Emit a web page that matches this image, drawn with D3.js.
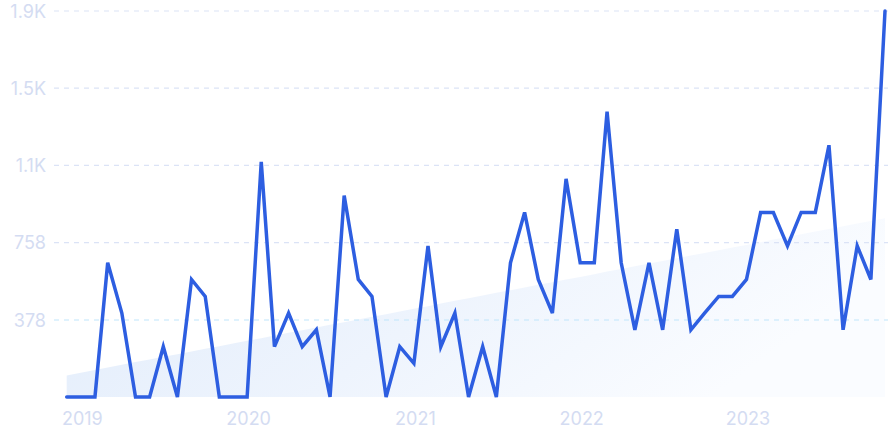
<!DOCTYPE html>
<html>
<head>
<meta charset="utf-8">
<script src="https://cdn.jsdelivr.net/npm/d3@7"></script>
<style>
  html, body { margin: 0; padding: 0; background: #ffffff; }
  svg { display: block; }
  text { font-family: Inter, "Noto Sans", sans-serif; }
</style>
</head>
<body>
<svg id="chart" width="888" height="443"></svg>
<script>
// ---- data ----
const months = [
  "2018-12","2019-01","2019-02","2019-03","2019-04","2019-05","2019-06","2019-07","2019-08","2019-09","2019-10","2019-11",
  "2019-12","2020-01","2020-02","2020-03","2020-04","2020-05","2020-06","2020-07","2020-08","2020-09","2020-10","2020-11",
  "2020-12","2021-01","2021-02","2021-03","2021-04","2021-05","2021-06","2021-07","2021-08","2021-09","2021-10","2021-11",
  "2021-12","2022-01","2022-02","2022-03","2022-04","2022-05","2022-06","2022-07","2022-08","2022-09","2022-10","2022-11",
  "2022-12","2023-01","2023-02","2023-03","2023-04","2023-05","2023-06","2023-07","2023-08","2023-09","2023-10","2023-11"
];
const values = [
  0,0,0,659,412,0,0,247,0,577,494,0,
  0,0,1154,247,412,247,330,0,989,577,494,0,
  247,165,742,247,412,0,247,0,659,906,577,412,
  1071,659,659,1401,659,330,659,330,824,330,412,494,
  494,577,906,906,742,906,906,1236,330,742,577,1895
];
const yTickValues = [378, 758, 1137, 1516, 1895];
const yTickLabels = ["378", "758", "1.1K", "1.5K", "1.9K"];
const xTickYears = ["2019", "2020", "2021", "2022", "2023"];

// ---- layout ----
const svg = d3.select("#chart");
const parse = d3.timeParse("%Y-%m");
const dates = months.map(parse);
const data = dates.map((d, i) => ({ date: d, value: values[i], i }));

const x = d3.scaleTime().domain(d3.extent(dates)).range([66.7, 885]);
const y = d3.scaleLinear().domain([0, 1895]).range([397, 11]);

// linear regression trend
const mi = d3.mean(data, d => d.i), mv = d3.mean(values);
const slope = d3.sum(data, d => (d.i - mi) * (d.value - mv)) / d3.sum(data, d => (d.i - mi) ** 2);
const trend = data.map(d => ({ date: d.date, value: mv + slope * (d.i - mi) }));

const defs = svg.append("defs");
const grad = defs.append("linearGradient").attr("id", "areaGrad")
  .attr("x1", "0%").attr("y1", "0%").attr("x2", "100%").attr("y2", "30%");
grad.append("stop").attr("offset", "0%").attr("stop-color", "#e1ecfb");
grad.append("stop").attr("offset", "55%").attr("stop-color", "#eef4fd");
grad.append("stop").attr("offset", "100%").attr("stop-color", "#fafcff");

svg.append("path")
  .datum(trend)
  .attr("fill", "url(#areaGrad)")
  .attr("d", d3.area().x(d => x(d.date)).y0(y(0)).y1(d => y(d.value)));

// grid + y labels
const yAxis = d3.axisLeft(y).tickValues(yTickValues)
  .tickFormat((d, i) => yTickLabels[i]).tickSize(0).tickPadding(0);
const gy = svg.append("g").attr("transform", "translate(46,0)").call(yAxis);
gy.select(".domain").remove();
gy.selectAll("text").attr("fill", "#d4dcf2").style("font-size", "18px").attr("dy", "0.35em");

svg.append("g").selectAll("line").data(yTickValues).join("line")
  .attr("x1", 54).attr("x2", 888)
  .attr("y1", d => y(d)).attr("y2", d => y(d))
  .attr("stroke", (d, i) => i === 0 ? "#bfe6fb" : "#dbe3f6")
  .attr("stroke-width", 1.2)
  .attr("stroke-dasharray", "5,5");

// x labels
const xAxis = d3.axisBottom(x)
  .tickValues(xTickYears.map(yr => d3.timeParse("%Y")(yr)))
  .tickFormat(d3.timeFormat("%Y")).tickSize(0).tickPadding(0);
const gx = svg.append("g").attr("transform", "translate(1,412)").call(xAxis);
gx.select(".domain").remove();
gx.selectAll("text").attr("fill", "#d4dcf2").style("font-size", "18px").attr("dy", "0.71em");

// line
svg.append("path")
  .datum(data)
  .attr("fill", "none")
  .attr("stroke", "#2d5ee1")
  .attr("stroke-width", 3.5)
  .attr("stroke-linejoin", "miter")
  .attr("stroke-linecap", "round")
  .attr("d", d3.line().x(d => x(d.date)).y(d => y(d.value)));
</script>
</body>
</html>
